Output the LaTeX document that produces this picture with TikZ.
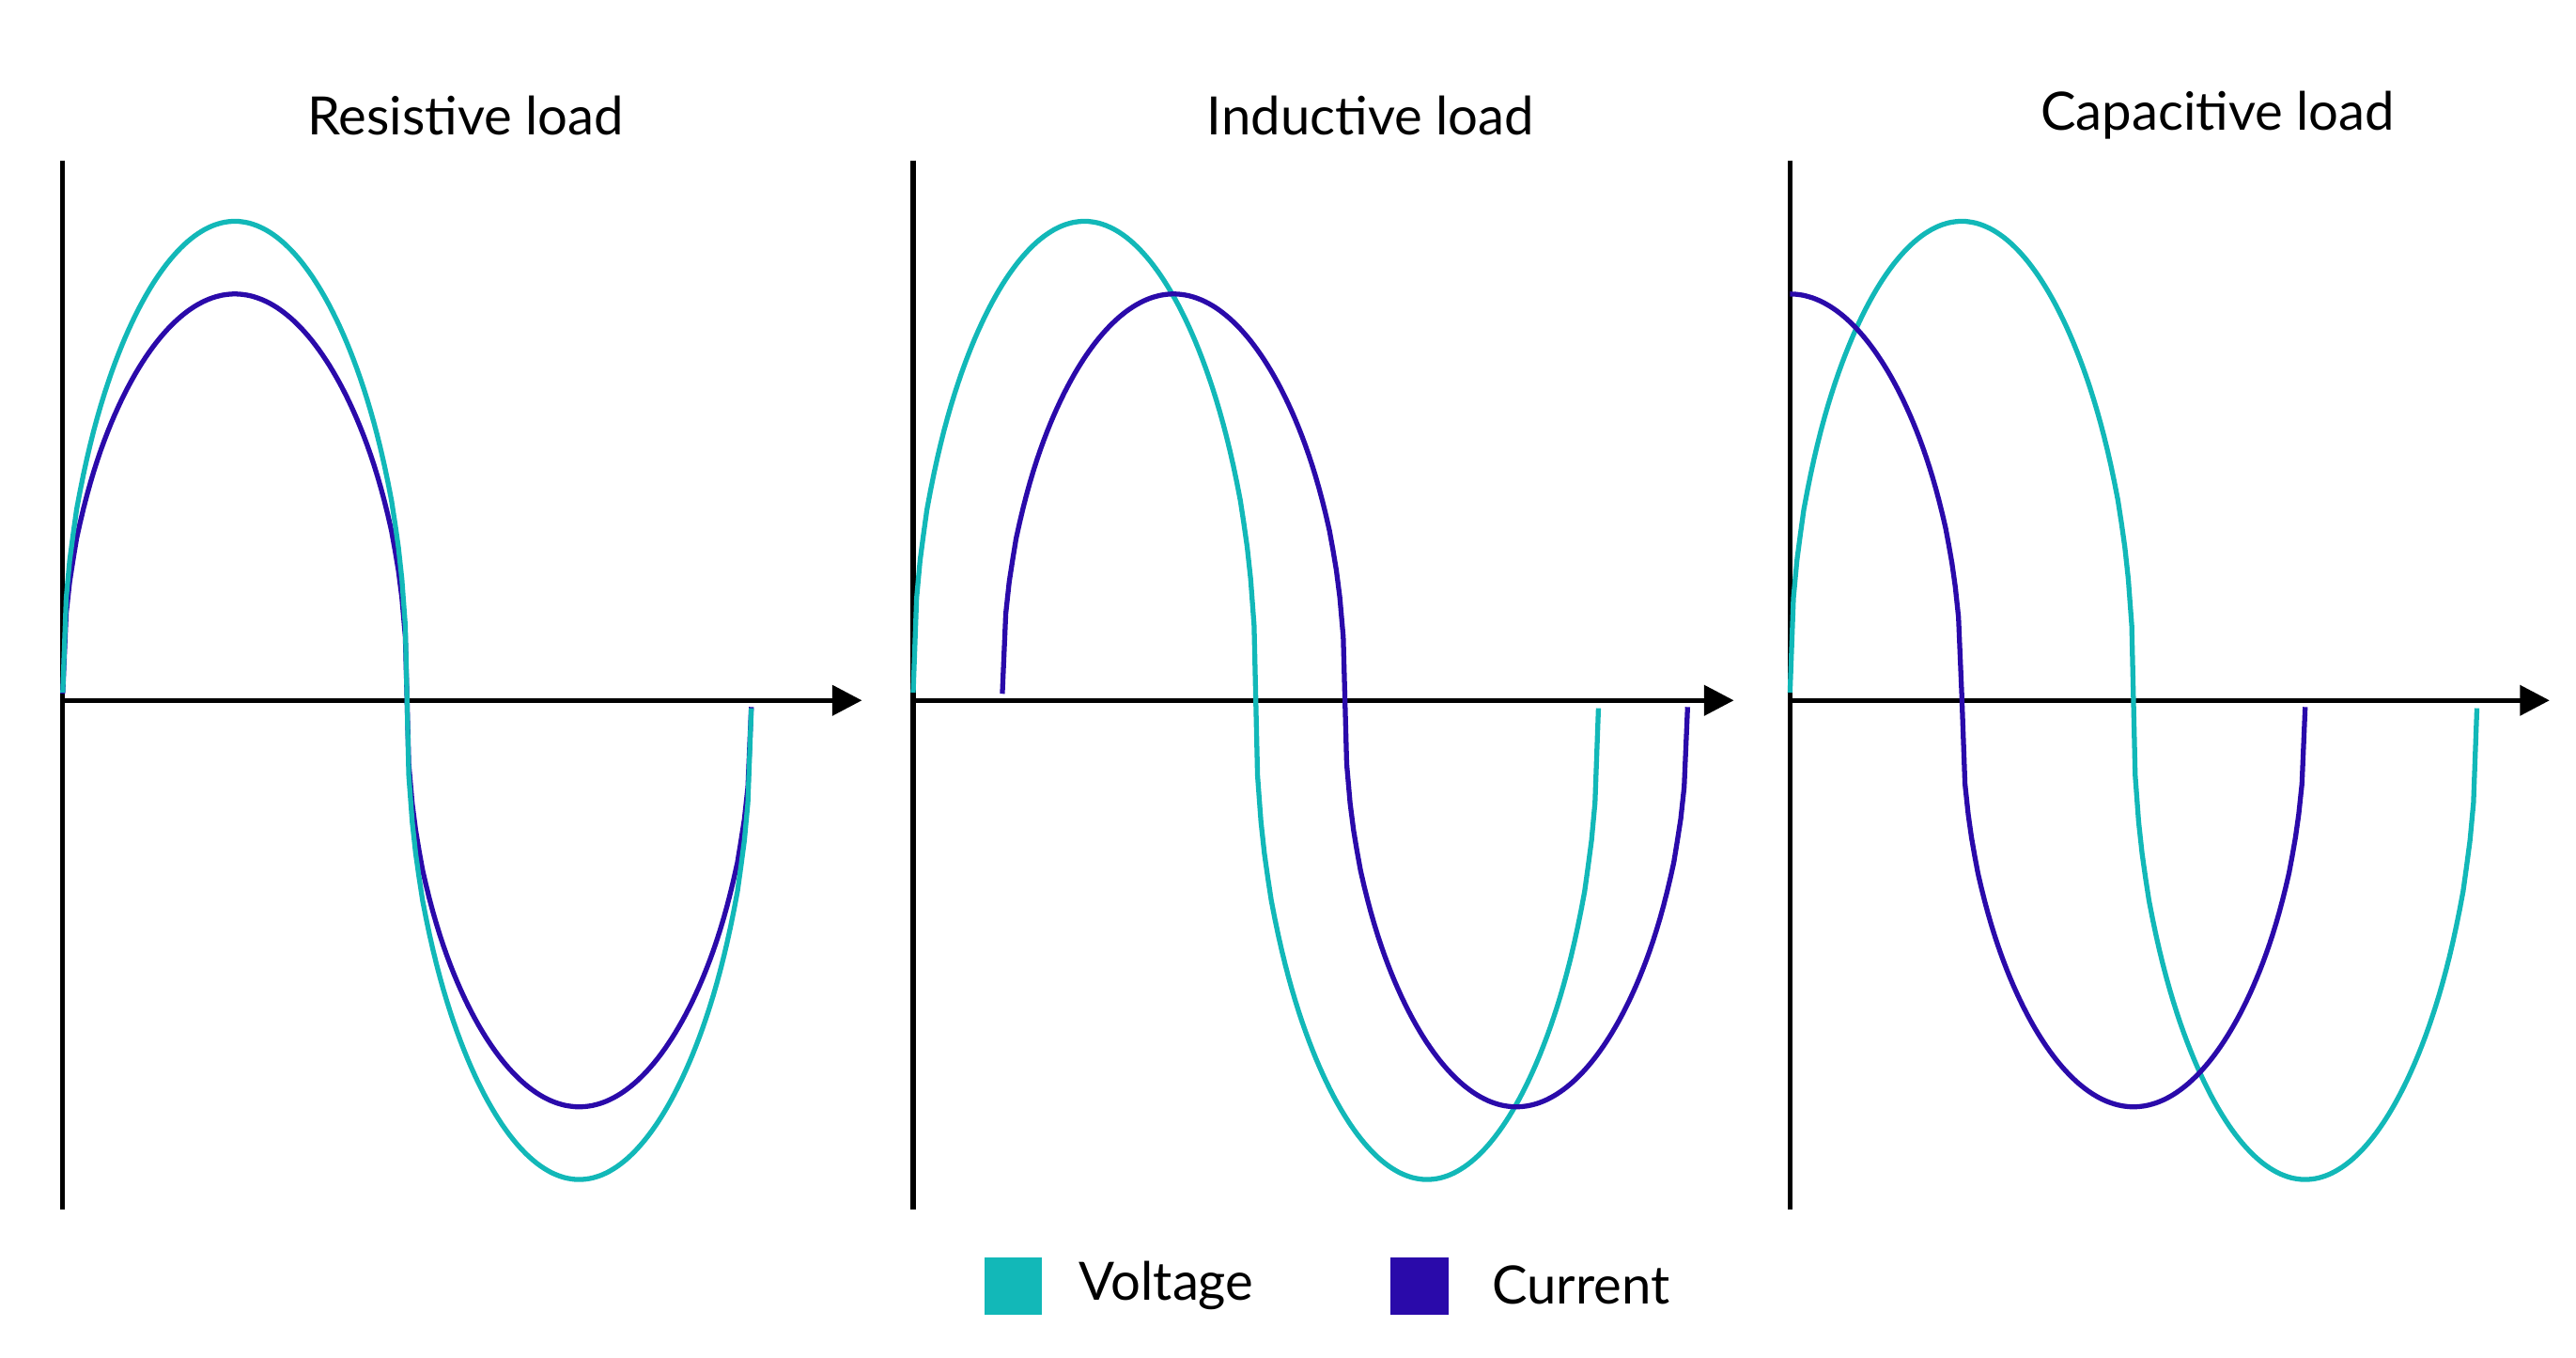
\documentclass[tikz,border=0pt]{standalone}
\usepackage{fontspec}
\setmainfont{Lato}
\usetikzlibrary{arrows.meta}
\definecolor{volt}{HTML}{12B8B8}
\definecolor{curr}{HTML}{2A0AAA}
\tikzset{
  axis/.style={line width=3pt, black},
  xaxis/.style={axis, -{Triangle[length=18pt,width=18pt]}},
  vwave/.style={line width=3pt, volt},
  iwave/.style={line width=3pt, curr},
  title/.style={font=\fontsize{32}{36}\selectfont},
  legtext/.style={font=\fontsize{32}{36}\selectfont, anchor=west},
}
\newcommand{\wv}[1]{((sin(#1)<0)?(-1):(1))*pow(max(abs(sin(#1)),0.0001),0.45)}
\begin{document}
\begin{tikzpicture}[x=1pt,y=-1pt]
\useasboundingbox (0,0) rectangle (1560,822);
% panel 1
\draw[axis] (38,97) -- (38,732);
\draw[xaxis] (38,424) -- (522,424);
\draw[iwave] plot[domain=0:360,samples=200] ({38+\x/360*417},{424-246*\wv{\x}});
\draw[vwave] plot[domain=0:360,samples=200] ({38+\x/360*417},{424-290*\wv{\x}});
\node[title] (t1) at (282,70) {Resistive load};
% panel 2
\draw[axis] (553,97) -- (553,732);
\draw[xaxis] (553,424) -- (1050,424);
\draw[vwave] plot[domain=0:360,samples=200] ({553+\x/360*415},{424-290*\wv{\x}});
\draw[iwave] plot[domain=0:360,samples=200] ({607+\x/360*415},{424-246*\wv{\x}});
\node[title] (t2) at (830,70) {Inductive load};
% panel 3
\draw[axis] (1084,97) -- (1084,732);
\draw[xaxis] (1084,424) -- (1544,424);
\draw[vwave] plot[domain=0:360,samples=200] ({1084+\x/360*416},{424-290*\wv{\x}});
\draw[iwave] plot[domain=90:360,samples=160] ({1084+(\x-90)/360*416},{424-246*\wv{\x}});
\node[title] (t3) at (1343,70) {Capacitive load};
% legend
\fill[volt] (596,761) rectangle (631,796);
\node[legtext] (lv) at (650,778) {Voltage};
\fill[curr] (842,761) rectangle (877,796);
\node[legtext] (lc) at (900,778) {Current};
\end{tikzpicture}
\end{document}
